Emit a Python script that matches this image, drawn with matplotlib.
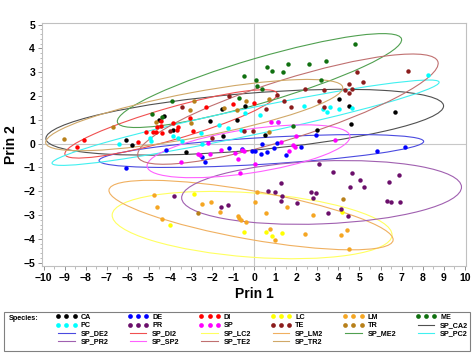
import matplotlib
matplotlib.use("Agg")
import matplotlib.pyplot as plt
from matplotlib.patches import Ellipse, Rectangle
from matplotlib.lines import Line2D
from matplotlib.ticker import MultipleLocator

plt.rcParams['font.family'] = ['Liberation Sans', 'DejaVu Sans']

# species scores (Prin 1, Prin 2)
ca = [(4.05, 1.89), (4.51, 1.60), (6.69, 1.33), (4.59, 0.83), (2.97, 0.59), (0.50, 0.35),
      (-0.46, 1.57), (-1.54, 1.46), (-2.11, 0.95), (-0.84, 1.01), (-1.50, 0.34), (-6.07, 0.14),
      (-5.82, -0.05), (-4.27, 1.18), (-3.85, 0.59), (-3.26, -0.37), (-4.51, 1.01)]
de = [(-4.17, -0.25), (-6.08, -1.03), (-2.36, -0.76), (-2.47, -0.56), (-1.21, -0.19), (-0.60, -0.22),
      (-0.12, -0.30), (0.06, -0.31), (0.31, -0.45), (0.39, -0.01), (0.63, -0.34), (0.92, -0.17),
      (1.06, 0.04), (1.53, -0.49), (2.21, -0.12), (2.92, 0.35), (5.85, -0.29), (7.16, -0.12)]
di = [(-8.09, 0.16), (-8.42, -0.14), (-2.27, 1.54), (-1.03, 1.66), (-3.04, 1.07), (-3.86, 0.87),
      (-3.61, 0.69), (-3.69, 0.59), (-4.45, 0.97), (-4.64, 0.71), (-4.42, 0.76), (-4.83, 0.49),
      (-4.68, 0.49), (-4.40, 0.46), (-5.13, 0.49), (-2.92, 0.55), (-5.50, 0.08), (0.01, 1.71)]
lc = [(-4.02, -3.40), (-2.87, -2.10), (-0.47, -3.70), (0.58, -3.73), (0.84, -3.89), (1.30, -3.75),
      (4.15, -2.86)]
lm = [(-4.78, -2.16), (-4.64, -2.66), (-4.40, -3.18), (0.11, -2.04), (0.06, -2.45), (-2.50, -2.52),
      (-2.06, -2.44), (-1.63, -2.86), (-0.79, -3.03), (-0.70, -3.12), (-0.64, -3.19), (-0.40, -3.28),
      (0.54, -2.93), (1.57, -2.65), (2.80, -2.98), (2.42, -3.79), (0.76, -3.57), (0.98, -4.06),
      (4.11, -3.82), (4.43, -3.64), (4.48, -4.44)]
me = [(4.81, 4.19), (-0.47, 2.86), (0.62, 3.21), (0.85, 3.07), (1.39, 3.01), (1.60, 3.35),
      (2.59, 3.36), (3.40, 3.46), (0.09, 2.69), (0.12, 2.41), (0.39, 2.31), (3.15, 2.66),
      (-0.73, 1.92), (1.83, 0.73), (-3.92, 1.78), (-4.84, 1.26), (-4.40, 1.12)]
pc = [(8.27, 2.89), (2.37, 1.57), (3.26, 1.47), (3.48, 1.34), (3.61, 1.54), (4.02, 1.47),
      (4.63, 1.48), (0.28, 1.19), (-0.45, 1.29), (1.12, 0.90), (-1.65, 0.77), (-1.25, 0.67),
      (-0.62, 0.59), (-2.55, 0.44), (-6.44, -0.01), (-4.97, 0.24), (-4.92, 0.12), (-3.86, 0.32),
      (-3.63, 0.24), (-3.45, 0.12), (-2.47, 0.0)]
pr = [(-3.80, -2.20), (-1.60, -2.68), (-1.25, -2.58), (3.08, -0.84), (1.26, -1.67), (0.64, -1.99),
      (0.98, -2.02), (1.30, -2.18), (1.25, -2.39), (2.04, -2.51), (2.69, -2.02), (2.94, -2.07),
      (2.77, -2.27), (3.72, -1.20), (4.65, -1.23), (5.04, -1.54), (4.57, -1.83), (5.22, -1.83),
      (3.51, -2.90), (4.11, -2.74), (4.44, -3.03), (6.89, -1.33), (6.42, -1.62), (6.29, -2.39),
      (6.50, -2.44), (6.94, -2.45)]
sp = [(-3.49, -0.79), (-2.66, -0.44), (-2.57, -0.47), (-2.08, -0.45), (-1.60, -0.27), (-0.90, -0.41),
      (-0.75, -0.63), (-0.57, -0.27), (-0.47, -0.31), (0.03, -0.84), (-0.68, -1.22), (0.82, 0.91),
      (1.14, 0.91), (1.26, 0.08), (1.63, -0.31), (1.84, -0.06), (1.92, -0.15), (1.97, 0.31),
      (3.86, 0.15), (-2.20, 0.04)]
te = [(4.86, 3.01), (7.29, 3.07), (5.17, 2.59), (4.52, 2.49), (4.65, 2.31), (4.30, 2.24),
      (4.52, 2.11), (3.32, 2.27), (2.40, 2.31), (1.09, 2.03), (1.42, 1.81), (3.08, 1.81),
      (1.76, 1.53), (0.54, 1.47), (3.32, 1.53), (-0.49, 0.55), (-0.08, 0.55), (-1.22, 1.99),
      (-1.99, 0.25), (-3.41, 1.55), (-3.99, 0.52)]
tr = [(-9.03, 0.18), (-6.69, 0.70), (-2.87, 1.78), (-3.07, 1.40), (-3.02, 0.87), (-4.65, 0.91),
      (-1.44, 1.48), (-0.81, 1.40), (-0.37, 1.80), (0.71, 1.88), (0.69, 0.49), (4.22, -2.33),
      (-2.68, -2.93)]

# ellipses: centre x, centre y, half major, half minor, angle (deg)
sp_ca2 = (-0.45, 0.90, 9.47, 1.20, 4.2)
sp_de2 = (0.34, -0.31, 7.72, 0.56, 3.0)
sp_di2 = (-3.95, 0.83, 5.20, 0.68, 14.2)
sp_lc2 = (-0.10, -3.42, 6.66, 1.35, -3.7)
sp_lm2 = (-0.15, -3.00, 6.83, 1.02, -8.9)
sp_me2 = (0.25, 2.65, 6.97, 0.95, 14.5)
sp_pc2 = (-0.41, 0.88, 9.35, 0.57, 10.5)
sp_pr2 = (3.20, -2.05, 6.65, 1.32, 2.0)
sp_sp2 = (-0.27, -0.32, 4.86, 0.92, 7.5)
sp_te2 = (1.60, 1.45, 7.40, 1.25, 15.5)
sp_tr2 = (-2.85, 1.20, 7.15, 0.95, 9.4)

species = [('CA', ca, '#000000'), ('DE', de, '#0000ff'), ('DI', di, '#ff0000'),
           ('LC', lc, '#ffff00'), ('LM', lm, '#f5a623'), ('ME', me, '#107010'),
           ('PC', pc, '#00ffff'), ('PR', pr, '#6b0f6b'), ('SP', sp, '#ff00ff'),
           ('TE', te, '#8b1c1c'), ('TR', tr, '#b8801a')]
ellipses = [('SP_CA2', sp_ca2, '#505050'), ('SP_DE2', sp_de2, '#4a4ae0'),
            ('SP_DI2', sp_di2, '#f05050'), ('SP_LC2', sp_lc2, '#ffff60'),
            ('SP_LM2', sp_lm2, '#f0b060'), ('SP_ME2', sp_me2, '#50a050'),
            ('SP_PC2', sp_pc2, '#40f0f0'), ('SP_PR2', sp_pr2, '#a060b0'),
            ('SP_SP2', sp_sp2, '#ff60ff'), ('SP_TE2', sp_te2, '#c07070'),
            ('SP_TR2', sp_tr2, '#d0a868')]

fig = plt.figure(figsize=(4.74, 3.55), dpi=100)
ax = fig.add_axes([0.0886, 0.2507, 0.8945, 0.6853])

ax.axhline(0, color='#c8c8c8', lw=0.8, zorder=0)
ax.axvline(0, color='#c8c8c8', lw=0.8, zorder=0)

handles = {}
for name, (cx, cy, a, b, ang), col in ellipses:
    ax.add_patch(Ellipse((cx, cy), 2 * a, 2 * b, angle=ang, fill=False,
                         edgecolor=col, lw=0.8, zorder=2))
    handles[name] = Line2D([], [], color=col, lw=0.8)

for name, pts, col in species:
    xs = [p[0] for p in pts]
    ys = [p[1] for p in pts]
    ax.plot(xs, ys, 'o', color=col, ms=3.2, mew=0, zorder=3)
    handles[name] = Line2D([], [], color=col, marker='o', ls='', ms=3.4, mew=0)

ax.set_xlim(-10.08, 10.06)
ax.set_ylim(-5.14, 5.08)
ax.xaxis.set_major_locator(MultipleLocator(1))
ax.xaxis.set_minor_locator(MultipleLocator(0.5))
ax.yaxis.set_major_locator(MultipleLocator(1))
ax.yaxis.set_minor_locator(MultipleLocator(0.2))
for s in ax.spines.values():
    s.set_color('#c0c0c0')
    s.set_linewidth(0.8)
ax.tick_params(which='major', length=3, color='#808080', width=0.6,
               labelsize=7.5, pad=2)
ax.tick_params(which='minor', length=1.8, color='#a0a0a0', width=0.5)
for lab in ax.get_xticklabels() + ax.get_yticklabels():
    lab.set_fontweight('bold')
ax.set_xlabel('Prin 1', fontsize=10, fontweight='bold', labelpad=3)
ax.set_ylabel('Prin 2', fontsize=10, fontweight='bold', labelpad=4)

# legend box drawn separately so "Species:" sits left of the entries
fig.patches.append(Rectangle((4 / 474, 1 - 351 / 355), 466 / 474, 39 / 355,
                             transform=fig.transFigure, fill=False,
                             edgecolor='#808080', lw=0.8))
fig.text(9 / 474, 1 - 318 / 355, 'Species:', fontsize=5.2, fontweight='bold', va='center')

# legend fills column by column, so reorder to read row by row
order = ['CA', 'PC', 'SP_DE2', 'SP_PR2',
         'DE', 'PR', 'SP_DI2', 'SP_SP2',
         'DI', 'SP', 'SP_LC2', 'SP_TE2',
         'LC', 'TE', 'SP_LM2', 'SP_TR2',
         'LM', 'TR', 'SP_ME2',
         'ME', 'SP_CA2', 'SP_PC2']
leg = fig.legend([handles[k] for k in order], order, ncol=6, numpoints=3,
                 loc='upper left', bbox_to_anchor=(54 / 474, 1 - 351 / 355, 416 / 474, 39 / 355),
                 mode='expand', frameon=False,
                 prop={'size': 5.2, 'weight': 'bold'}, handlelength=2.9,
                 handletextpad=0.5, columnspacing=1.0, labelspacing=0.16,
                 borderpad=0.25, borderaxespad=0)

fig.savefig('out.png', dpi=100)
